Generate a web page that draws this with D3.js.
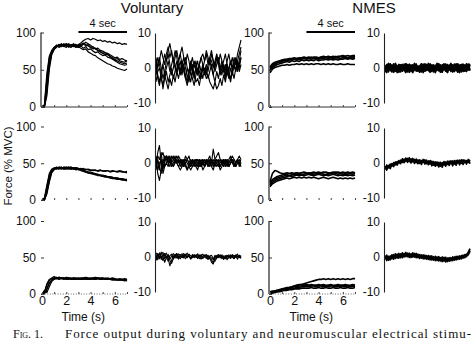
<!DOCTYPE html>
<html><head><meta charset="utf-8">
<script src="https://cdn.jsdelivr.net/npm/d3@7"></script>
<style>
body{margin:0;background:#fff}
svg{display:block}
text{font-family:"Liberation Sans",Arial,Helvetica,sans-serif;fill:#111}
</style>
</head><body>
<svg id="c" width="474" height="342"></svg>
<script>
// ---------------- DATA ----------------
const titles = ["Voluntary", "NMES"];
const forceTicks = [0, 50, 100];
const residTicks = [-10, 0, 10];
const timeTicks = [0, 1, 2, 3, 4, 5, 6, 7];
const timeLabels = [0, 2, 4, 6];
const timeMax = 7;
const barStart = 3, barEnd = 7, barLabel = "4 sec";

// Voluntary force traces (% MVC), sampled every 0.2 s from 0 to 7 s
const volForce1 = [
  [0,3,45,68,76,80,83,81,84,82,85,83,81,84,82,84,86,89,91,92,90,92,91,89,90,88,89,87,88,86,87,85,86,84,85,84],
  [0,1,30,62,74,79,82,84,81,83,85,82,80,83,84,82,83,85,82,84,80,78,79,76,74,72,73,70,68,66,64,65,62,61,60,62],
  [0,0,20,55,72,78,80,83,85,82,80,84,82,81,83,80,82,79,81,77,78,75,73,74,71,69,70,67,66,64,62,60,58,57,56,57],
  [0,2,38,66,75,80,81,84,82,85,83,80,84,82,80,81,79,77,78,74,72,70,69,66,64,62,60,58,57,55,54,52,51,50,49,51],
  [0,0,15,50,70,77,81,82,84,81,83,85,82,84,81,83,84,86,84,82,80,81,78,79,76,75,73,72,70,68,66,67,64,65,63,62],
  [0,1,25,58,73,79,83,80,82,84,82,81,83,85,82,80,82,84,87,85,83,80,78,76,75,72,70,71,68,65,63,62,60,59,58,59]
];
const volForce2 = [
  [0,2,15,30,40,43,44,42,43,45,44,43,42,44,43,42,43,41,42,41,40,41,40,40,41,39,40,40,39,40,39,39,40,39,38,39],
  [0,0,10,26,38,42,43,45,44,42,43,44,45,43,44,43,42,43,41,42,41,40,41,39,40,40,39,40,38,39,39,38,39,38,38,37],
  [0,1,18,34,41,44,42,43,44,43,45,43,42,43,41,42,40,39,38,37,36,35,34,34,33,32,32,31,30,30,29,29,28,28,27,27],
  [0,0,12,28,39,42,43,44,42,44,43,42,44,42,43,41,41,40,38,37,36,36,35,33,33,32,31,31,30,29,29,28,28,27,27,26],
  [0,3,20,36,42,43,45,43,44,42,44,45,43,44,42,43,42,40,39,38,37,36,35,35,34,33,33,32,31,31,30,30,29,29,28,28],
  [0,0,8,24,37,41,44,43,45,43,42,43,44,42,44,42,41,41,39,38,38,37,36,35,34,34,33,32,32,31,30,30,29,28,28,27]
];
const volForce3 = [
  [0,3,12,18,21,22,23,21,22,21,22,21,20,21,22,21,20,21,20,21,22,21,20,21,22,21,20,21,20,19,20,19,20,19,20,19],
  [0,1,8,15,19,21,22,23,22,22,21,22,21,22,21,21,22,21,22,21,21,22,23,22,21,22,21,21,20,21,20,20,19,20,19,20],
  [0,5,2,10,17,20,21,22,21,20,21,20,21,20,20,21,20,20,21,20,20,21,20,21,20,21,21,20,21,20,19,20,19,19,18,19],
  [0,0,6,14,19,22,21,20,21,22,20,21,22,20,21,20,21,22,21,20,21,20,22,21,20,20,22,21,20,21,20,19,20,20,19,18],
  [0,2,14,20,22,24,22,23,22,21,23,22,21,22,21,22,21,22,23,22,21,22,21,22,21,22,20,22,21,22,21,20,21,20,21,20]
];

// Voluntary residual traces (% MVC), 50 samples from 0 to 7 s
const volResid1 = [
  [-2,1,3,0,-3,-1,2,4,1,-2,0,3,5,2,4,6,3,1,4,2,-1,1,-2,0,2,-1,-3,0,2,4,1,3,5,2,0,3,1,-2,0,2,4,1,-1,2,0,3,1,4,6,8],
  [1,-3,-5,-2,-6,-3,-1,-4,-2,0,-3,-1,2,0,-2,1,-1,-3,0,-2,1,3,0,2,-1,1,3,1,-2,0,-3,-1,1,-2,-4,-1,-3,0,2,-1,1,-2,0,2,-1,1,3,0,2,5],
  [3,0,2,5,3,1,4,6,3,5,2,0,-2,1,-1,2,0,-3,-5,-2,-4,-1,-3,0,-2,1,3,4,2,5,3,1,4,2,-1,1,3,0,-2,1,-1,2,4,1,3,0,2,-1,1,3],
  [-4,-1,0,-3,-5,-2,0,2,-1,1,3,1,-1,2,4,1,3,0,-2,-4,-1,-3,-5,-2,0,-3,-1,1,-1,-3,-2,-4,-5,-6,-4,-6,-5,-3,-5,-2,-4,-1,-3,0,-2,1,-1,2,0,3],
  [0,3,1,-2,1,4,2,5,7,4,2,5,3,0,2,-1,1,-2,-4,-1,1,-1,2,0,-2,1,-1,-3,0,-2,1,3,2,0,2,4,2,-1,1,-1,-3,0,-2,-4,-1,-3,0,2,-1,1],
  [2,-2,-4,-1,1,-2,-4,-6,-3,-5,-2,-4,-1,-3,0,-2,1,3,0,-1,2,0,-2,-4,-3,-5,-2,0,-1,1,-1,2,0,-2,1,3,1,4,2,0,-2,1,-1,-3,-1,1,-1,2,4,6]
];
const volResid2 = [
  [-1,3,5,0,-2,1,2,0,1,-1,0,1,2,1,0,1,-1,0,1,0,-1,0,1,0,-1,1,0,1,-1,0,1,2,0,4,1,0,-1,0,1,0,-1,1,0,1,0,-1,0,1,0,1],
  [1,-3,-5,-2,1,-1,0,2,1,0,-1,1,0,-1,0,1,-1,0,-2,-1,0,1,0,-1,0,1,-1,0,1,0,-1,0,1,0,-1,0,1,-1,0,1,0,1,-1,0,1,0,-1,0,1,0],
  [2,0,-2,2,3,1,2,1,2,0,1,2,0,1,-1,0,1,-1,-2,0,-1,1,0,-1,-2,0,1,0,-1,0,0,1,-1,0,1,2,3,1,0,1,0,-1,0,1,2,1,0,1,0,-1],
  [-2,1,-1,-3,0,2,1,0,-1,1,2,1,0,-1,-2,-1,0,1,0,-1,-2,-1,0,1,0,-1,0,-2,-1,0,1,0,-1,-2,0,1,0,-1,0,1,-1,0,-1,0,1,-1,0,1,-1,0],
  [0,2,1,3,-1,0,2,1,0,2,1,0,1,2,1,0,-1,0,1,2,0,-1,0,1,1,0,-1,1,0,1,-1,0,1,-1,0,1,0,1,0,-1,1,0,1,2,0,1,0,1,2,1],
  [1,-2,0,1,-3,-1,0,-1,1,0,-1,0,1,0,1,-1,0,2,1,0,1,0,-1,0,1,0,-1,0,-1,1,0,-1,0,1,0,-1,0,-2,-1,0,1,0,-1,0,1,0,-1,0,0,-1]
];
const volResid3 = [
  [0.5,-0.8,1.2,0.3,-1.0,0.6,1.1,-0.4,-2.5,-1.0,0.4,-0.3,0.8,0.2,-0.5,0.6,1.0,0.3,-0.2,0.5,-0.6,0.2,0.7,-0.1,0.4,-0.5,0.3,0.8,0.1,-0.4,0.5,-0.2,-1.5,-2.0,-0.6,0.3,0.7,-0.3,0.4,-0.7,0.1,0.5,-0.2,0.6,0.0,-0.5,0.3,0.8,-0.2,0.4],
  [-0.6,1.0,-0.3,0.9,1.3,-0.5,0.2,-1.2,0.4,0.8,-0.6,0.5,1.0,-0.2,0.6,0.9,-0.3,0.4,1.1,0.2,-0.4,0.7,-0.2,0.3,0.9,0.1,-0.6,0.2,0.6,0.0,-0.7,0.3,0.5,-0.4,-1.2,-0.3,0.2,0.6,-0.5,0.1,0.4,-0.8,0.3,0.0,0.7,-0.3,0.2,-0.6,0.5,0.1],
  [1.2,0.2,-0.5,1.4,0.1,-1.5,-0.2,0.8,-0.9,-1.8,-0.4,0.7,0.1,-0.6,0.3,0.1,0.6,-0.5,0.2,0.8,0.3,-0.2,0.5,0.1,-0.3,0.6,0.2,-0.4,0.3,0.7,0.2,-0.5,-0.8,-1.6,0.0,0.4,-0.2,0.3,0.6,-0.4,-0.1,0.3,0.6,-0.4,0.2,0.5,-0.1,0.3,0.0,-0.3],
  [-1.0,0.6,0.9,-0.7,0.5,1.0,-0.3,0.4,-0.6,0.2,1.0,0.4,-0.3,0.9,0.5,-0.2,0.2,0.8,-0.1,0.3,-0.5,0.4,0.0,0.6,-0.4,0.2,0.7,-0.3,0.1,0.4,-0.6,0.2,-0.3,-0.7,0.5,-0.2,0.1,0.5,-0.1,0.3,-0.5,0.2,-0.3,0.4,0.1,-0.2,0.6,0.0,0.4,-0.4]
];

// NMES force traces (% MVC), sampled every 0.2 s
const nmesForce1 = [
  [52,57,58,61,60,63,62,64,63,65,64,65,64,66,65,66,65,67,65,66,65,67,66,67,66,67,66,68,66,68,67,68,66,68,67,68],
  [48,53,55,57,58,59,60,61,60,62,61,62,61,63,62,63,62,63,62,64,62,63,63,64,63,64,63,64,63,64,64,65,64,65,64,65],
  [46,51,53,54,55,56,56,57,56,57,57,58,57,58,57,58,57,58,57,58,58,57,58,57,58,57,58,57,57,58,57,57,58,57,57,57],
  [50,55,57,59,60,61,62,62,63,63,64,63,64,64,65,64,65,64,65,65,64,65,65,66,65,66,65,66,66,65,66,66,65,66,66,66],
  [54,58,60,61,62,63,64,64,65,65,66,65,66,66,67,66,67,66,67,67,66,67,68,67,68,67,68,67,68,68,69,68,69,68,69,69]
];
const nmesForce2 = [
  [25,36,40,39,37,36,36,37,36,37,36,37,36,37,37,36,37,36,37,36,37,36,37,38,37,36,37,38,37,36,37,36,37,36,37,36],
  [22,26,28,30,31,32,33,34,33,34,35,34,35,34,35,36,35,34,35,36,35,36,35,34,35,36,35,36,35,36,35,34,35,36,35,36],
  [20,24,26,28,29,30,31,32,33,32,33,34,33,34,33,34,35,34,33,34,35,34,33,34,33,34,35,34,33,34,33,34,33,34,33,34],
  [18,22,24,26,27,28,29,30,29,30,31,30,31,30,31,30,31,30,31,30,29,30,31,30,29,30,31,30,29,30,29,30,29,30,29,30],
  [23,28,30,32,33,34,35,35,36,35,36,37,36,37,38,37,36,37,38,37,38,37,38,37,36,37,38,37,38,37,38,37,38,37,38,37]
];
const nmesForce3 = [
  [1,2,3,4,5,6,7,8,9,10,11,12,13,13,14,15,16,17,18,19,20,20,21,20,21,20,21,20,21,20,21,20,21,20,21,21],
  [2,3,4,5,5,6,7,8,8,9,10,10,11,11,12,12,12,11,12,12,11,12,12,11,12,12,11,12,11,12,12,11,12,11,12,12],
  [1,2,3,3,4,5,6,6,7,8,8,9,9,10,10,11,10,11,11,10,11,11,10,11,10,11,11,10,11,10,11,10,11,10,11,10],
  [0,1,2,3,3,4,5,5,6,6,7,7,7,8,8,8,8,9,8,8,9,8,8,9,8,8,9,8,8,9,8,8,9,8,8,9],
  [3,4,4,5,6,7,8,9,9,10,11,12,12,13,12,13,12,13,12,12,13,12,13,12,12,13,12,12,13,12,12,13,12,12,13,12]
];

// NMES residual traces (% MVC), 50 samples
const nmesResid1 = [
  [0.8,-0.9,1.1,-0.7,0.9,-1.2,0.6,-0.8,1.0,-1.1,0.7,-0.6,1.2,-0.9,0.8,-1.0,0.9,-0.7,1.1,-0.8,0.6,-1.1,1.0,-0.9,0.8,-0.6,1.2,-1.0,0.7,-0.9,1.1,-0.8,0.9,-1.2,0.7,-0.9,1.0,-0.6,0.8,-1.1,0.9,-0.7,1.2,-0.8,0.6,-1.0,0.9,-0.7,1.1,-0.5],
  [-0.7,1.0,-1.1,0.8,-0.6,1.2,-0.9,0.7,-1.0,0.9,-0.8,1.1,-0.6,1.0,-1.2,0.8,-0.7,1.1,-0.9,0.6,-1.0,0.9,-0.8,1.2,-0.7,1.0,-0.9,0.6,-1.1,0.8,-0.7,1.0,-1.2,0.9,-0.6,1.1,-0.8,0.7,-1.0,0.9,-0.6,1.2,-0.9,0.8,-1.1,0.7,-0.8,1.0,-0.6,0.9],
  [0.3,-1.3,0.5,1.2,-0.4,-1.0,1.3,0.2,-1.2,0.6,1.0,-0.5,-1.3,0.4,1.1,-0.2,-1.1,1.3,0.3,-0.9,0.5,1.2,-1.3,0.1,1.0,-0.6,-1.2,0.9,0.4,-1.0,1.3,-0.3,-1.1,0.6,1.2,-0.5,-1.3,0.8,0.2,-1.0,1.1,-0.4,-1.2,0.7,1.0,-0.3,-0.9,1.2,0.5,-0.8],
  [-1.2,0.4,1.3,-0.5,-1.1,0.9,0.2,-1.3,1.0,0.5,-0.9,-0.3,1.2,-1.1,0.3,0.8,-1.3,0.6,1.0,-0.4,-1.2,0.2,1.1,-0.8,-0.5,1.3,-1.0,0.1,0.9,-1.3,0.5,1.2,-0.6,-0.9,0.3,1.0,-1.2,0.4,1.3,-0.7,-1.0,0.8,0.1,-1.3,0.6,1.1,-0.5,-1.0,0.7,1.2]
];
const nmesResid2 = [
  [-1.8,-0.6,-1.4,-0.3,-0.9,0.1,-0.5,0.4,-0.1,0.8,0.2,1.1,0.5,1.3,0.4,1.2,0.3,1.0,0.1,0.9,-0.1,0.7,0.2,0.9,-0.2,0.6,-0.3,0.5,-0.6,0.3,-0.7,0.2,-0.9,0.1,-0.6,0.3,-0.4,0.5,-0.2,0.6,-0.3,0.7,0.0,0.8,-0.1,0.9,0.1,0.7,0.2,0.9],
  [-1.0,-2.0,-0.8,-1.6,-0.2,-1.0,0.3,-0.6,0.7,-0.2,1.2,0.1,1.4,0.2,1.5,0.0,1.3,-0.1,1.1,-0.2,0.9,-0.4,1.0,-0.3,0.8,-0.5,0.7,-0.8,0.4,-0.9,0.3,-1.1,0.2,-1.2,0.4,-0.9,0.5,-0.7,0.6,-0.8,0.7,-0.6,0.8,-0.5,0.9,-0.4,0.8,-0.3,1.0,-0.2],
  [-1.3,-1.1,-0.7,-0.9,-0.4,-0.3,0.0,0.2,0.3,0.4,0.6,0.8,0.7,0.9,0.6,0.8,0.5,0.6,0.4,0.5,0.3,0.4,0.2,0.5,0.1,0.3,-0.1,0.0,-0.3,-0.2,-0.4,-0.5,-0.3,-0.4,-0.2,-0.1,0.0,-0.2,0.1,0.2,0.0,0.1,0.3,0.2,0.4,0.1,0.3,0.4,0.2,0.5]
];
const nmesResid3 = [
  [-0.6,0.5,-0.9,0.3,-0.5,0.7,-0.4,0.8,-0.3,0.9,-0.2,1.0,0.1,1.1,-0.1,0.9,0.0,1.0,-0.2,0.8,-0.4,0.6,-0.5,0.5,-0.6,0.4,-0.8,0.3,-0.9,0.2,-1.0,0.1,-1.1,0.0,-1.2,-0.1,-1.3,-0.2,-1.1,0.0,-0.9,0.2,-0.7,0.3,-0.5,0.5,-0.2,0.8,0.6,1.9],
  [0.4,-1.0,0.2,-0.8,0.6,-0.6,0.9,-0.3,1.0,-0.2,1.2,0.0,1.3,0.1,1.1,-0.1,1.2,0.0,1.0,-0.2,0.7,-0.3,0.6,-0.5,0.4,-0.7,0.3,-0.8,0.1,-1.0,0.0,-1.1,-0.2,-1.3,-0.1,-1.4,-0.3,-1.2,-0.2,-1.0,0.0,-0.8,0.2,-0.6,0.4,-0.3,0.7,0.1,1.4,2.4],
  [-0.2,-0.4,0.0,-0.3,0.2,-0.1,0.3,0.1,0.4,0.3,0.6,0.5,0.8,0.6,0.7,0.5,0.6,0.4,0.5,0.3,0.4,0.1,0.2,0.0,0.1,-0.2,0.0,-0.3,-0.2,-0.5,-0.3,-0.6,-0.5,-0.8,-0.6,-0.9,-0.7,-0.8,-0.5,-0.6,-0.4,-0.3,-0.2,-0.1,0.1,0.0,0.3,0.6,1.0,1.6]
];

const yLabel = "Force (% MVC)";
const xLabel = "Time (s)";
const captionLead = "FIG. 1.";
const captionText = "Force output during voluntary and neuromuscular electrical stimu-";

// ---------------- LAYOUT ----------------
const svg = d3.select("#c");
const colX = { vF:[42,127], vR:[156,241], nF:[270,355], nR:[385,470] };
const rowF = [[107,32.5],[200,126.5],[294,221]];
const rowR = [[103,33],[198,128],[292,222]];

const volForce = [volForce1, volForce2, volForce3];
const volResid = [volResid1, volResid2, volResid3];
const nmesForce = [nmesForce1, nmesForce2, nmesForce3];
const nmesResid = [nmesResid1, nmesResid2, nmesResid3];

function drawTraces(g, traces, x, y, w) {
  traces.forEach(tr => {
    const step = timeMax / (tr.length - 1);
    const line = d3.line().x((d, i) => x(i * step)).y(d => y(d));
    g.append("path").attr("d", line(tr))
      .attr("fill", "none").attr("stroke", "#000")
      .attr("stroke-width", w).attr("stroke-linejoin", "round");
  });
}

function forcePanel(r, xr, data, showYLine, xAxisStyle, w) {
  const x = d3.scaleLinear([0, timeMax], xr);
  const y = d3.scaleLinear([0, 100], rowF[r]);
  const g = svg.append("g");
  drawTraces(g, data, x, y, w);
  const ya = g.append("g").attr("transform", `translate(${xr[0]-1},0)`)
    .call(d3.axisLeft(y).tickValues(forceTicks).tickSize(-3).tickPadding(5));
  ya.selectAll("text").style("font-size", "12px").attr("fill", "#111");
  ya.selectAll("line").attr("stroke", "#333");
  if (showYLine) ya.select(".domain").attr("stroke", "#222").attr("stroke-width", 1.2)
    .attr("d", `M0,${y(100)}V${y(0)}`);
  else ya.select(".domain").remove();
  const xa = g.append("g").attr("transform", `translate(0,${y(0)})`)
    .call(d3.axisBottom(x).tickValues(timeTicks).tickSize(-2).tickPadding(2)
      .tickFormat(d => (r === 2 && timeLabels.includes(d)) ? String(d) : ""));
  xa.selectAll("line").attr("stroke", "#444");
  xa.selectAll("text").style("font-size", "12.5px").attr("fill", "#111").attr("dy", "0.75em");
  const dom = xa.select(".domain");
  if (xAxisStyle === "solid") dom.attr("stroke", "#333").attr("d", `M${xr[0]},0H${xr[1]}`);
  else if (xAxisStyle === "dotted") dom.attr("stroke", "#666").attr("stroke-dasharray", "1,1.6").attr("d", `M${xr[0]},0H${xr[1]}`);
  else dom.remove();
  return { x, y, g };
}

function residPanel(r, xr, data, w) {
  const x = d3.scaleLinear([0, timeMax], xr);
  const y = d3.scaleLinear([-10, 10], rowR[r]);
  const g = svg.append("g");
  drawTraces(g, data, x, y, w);
  const ya = g.append("g").attr("transform", `translate(${xr[0]-1},0)`)
    .call(d3.axisLeft(y).tickValues(residTicks).tickSize(0).tickPadding(4).tickFormat(d => String(d)));
  ya.selectAll("text").style("font-size", "12px").attr("fill", "#111");
  ya.select(".domain").attr("stroke", "#222").attr("stroke-width", 1.1);
}

for (let r = 0; r < 3; r++) {
  const xs = r === 0 ? "solid" : (r === 2 ? "dotted" : "none");
  const p1 = forcePanel(r, colX.vF, volForce[r], r === 0, xs, 1.2);
  residPanel(r, colX.vR, volResid[r], 1.1);
  const p2 = forcePanel(r, colX.nF, nmesForce[r], true, xs, 1.6);
  residPanel(r, colX.nR, nmesResid[r], 1.7);
  if (r === 0) {
    [p1, p2].forEach(p => {
      const yb = p.y(100);
      p.g.append("line").attr("x1", p.x(barStart)).attr("x2", p.x(barEnd))
        .attr("y1", yb - 0.5).attr("y2", yb - 0.5).attr("stroke", "#000").attr("stroke-width", 2.2);
      p.g.append("text").attr("x", p.x((barStart + barEnd) / 2)).attr("y", yb - 5.5)
        .attr("text-anchor", "middle").style("font-size", "11px").text(barLabel);
    });
  }
  if (r === 2) {
    [p1, p2].forEach(p => {
      p.g.append("text").attr("x", p.x(3.4)).attr("y", 321)
        .attr("text-anchor", "middle").style("font-size", "12px").text(xLabel);
    });
  }
}

// titles
svg.append("text").attr("x", 152).attr("y", 13).attr("text-anchor", "middle")
  .style("font-size", "15px").text(titles[0]);
svg.append("text").attr("x", 374).attr("y", 12.5).attr("text-anchor", "middle")
  .style("font-size", "15px").text(titles[1]);

// y label
svg.append("text").attr("transform", "translate(12,166) rotate(-90)")
  .attr("text-anchor", "middle").style("font-size", "11.5px").attr("fill", "#333").text(yLabel);

// caption
const cap = svg.append("text").attr("y", 337.5).style("font-family", '"Liberation Serif","Times New Roman",serif').attr("fill", "#222");
cap.append("tspan").attr("x", 13).style("font-size", "12px").style("font-variant", "small-caps").text(captionLead.replace("FIG", "Fig"));
cap.append("tspan").attr("x", 65).style("font-size", "13px").attr("textLength", 406).attr("lengthAdjust", "spacing").text(captionText);
</script>
</body></html>
